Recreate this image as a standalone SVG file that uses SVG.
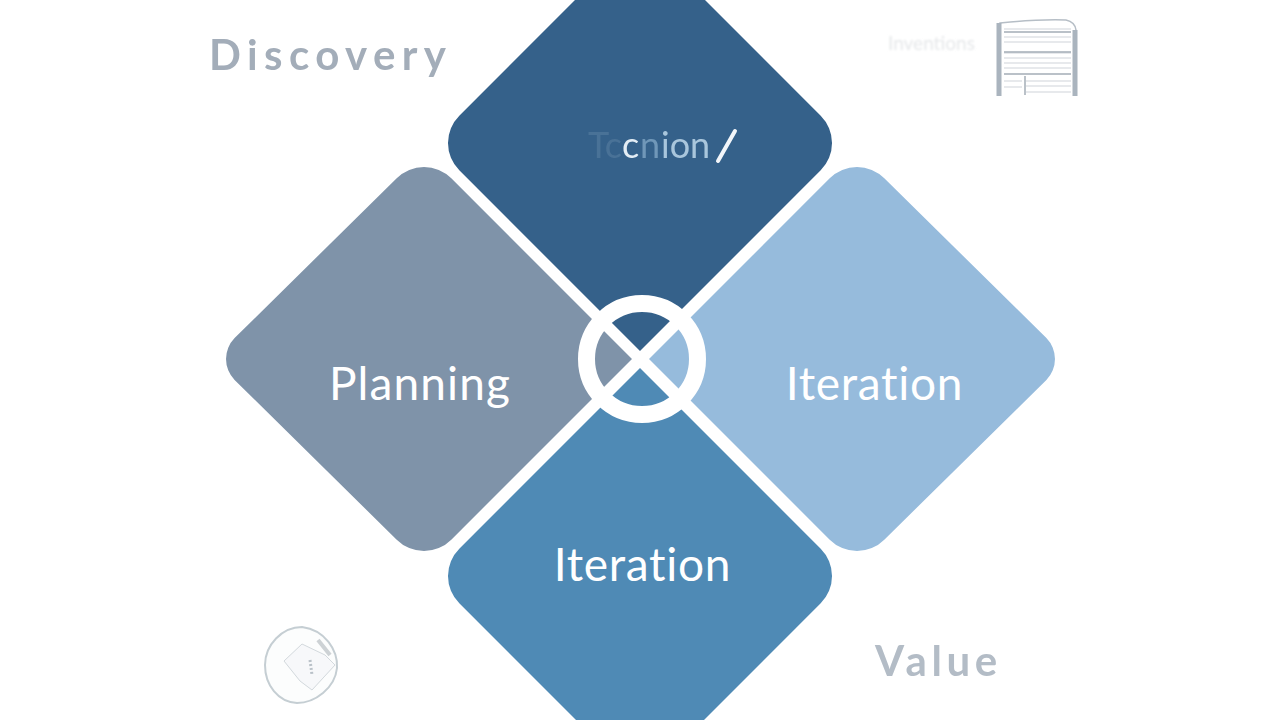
<svg xmlns="http://www.w3.org/2000/svg" width="1280" height="720" viewBox="0 0 1280 720">
<style>
.w{font-family:Lato,"Open Sans",sans-serif;fill:#fff;font-size:46px;text-anchor:middle;letter-spacing:1.1px;font-variant-ligatures:none}
.n{letter-spacing:0.7px}
.g{font-family:Lato,"Open Sans",sans-serif;font-weight:700;fill:#a3adb9;font-size:42px;font-variant-ligatures:none}
.i{fill:none;stroke:#cfd4d9;stroke-width:1.2}
.t{font-family:Lato,sans-serif;font-size:36px}
</style>
<defs>
<filter id="b"><feGaussianBlur stdDeviation="0.6"/></filter>
<filter id="b2"><feGaussianBlur stdDeviation="1.2"/></filter>
</defs>
<rect width="1280" height="720" fill="#fff"/>
<g id="node-top"><path d="M640 351L459.3 170.3A38.6 38.6 0 0 1 459.3 115.7L640 -65L820.7 115.7A38.6 38.6 0 0 1 820.7 170.3Z" fill="#35618a"/>
<g filter="url(#b)"><text class="t" x="588" y="158" fill="#4a7297">Tc</text><text class="t" x="622" y="158" fill="#e3edf5">c</text><text class="t" x="640" y="158" fill="#6f97b8">n</text><text class="t" x="661" y="158" fill="#a9c6dc">ion</text></g>
<path d="M718 161L735 131" stroke="#f2f6fa" stroke-width="4" stroke-linecap="round" fill="none"/></g>
<g id="node-left"><path d="M632 359L451.3 178.3A38.6 38.6 0 0 0 396.7 178.3L234.6 338A30 30 0 0 0 234.6 380L396.7 539.7A38.6 38.6 0 0 0 451.3 539.7Z" fill="#7f93a9"/><text class="w" x="420" y="400">Planning</text></g>
<g id="node-right"><path d="M649 359L829.7 178.3A38.6 38.6 0 0 1 884.3 178.3L1046.4 338A30 30 0 0 1 1046.4 380L884.3 539.7A38.6 38.6 0 0 1 829.7 539.7Z" fill="#96bbdc"/><text class="w n" x="874.5" y="400">Iteration</text></g>
<g id="node-bottom"><path d="M640 368L820.7 548.7A38.6 38.6 0 0 1 820.7 603.3L640 784L459.3 603.3A38.6 38.6 0 0 1 459.3 548.7Z" fill="#4f8ab5"/><text class="w n" x="642.5" y="581">Iteration</text></g>
<g id="connectors"><circle cx="642" cy="359" r="55.5" fill="none" stroke="#fff" stroke-width="17"/></g>
<g id="label-discovery"><text class="g" x="209" y="70" letter-spacing="6.4" filter="url(#b)">Discovery</text></g>
<g id="label-value"><text class="g" x="875" y="676" letter-spacing="4.6" style="fill:#b3bcc6" filter="url(#b)">Value</text></g>
<g id="icon-doc" filter="url(#b)">
<text x="888" y="50" font-family="Lato,sans-serif" font-size="19" fill="#e6e8ea" filter="url(#b2)">Inventions</text>
<path d="M1000 96V23Q1040 19 1066 20Q1075 22 1076 30V96" fill="#fff" stroke="#b6bec6" stroke-width="1.5"/>
<path d="M999 96V23M1075 96V30" fill="none" stroke="#aab4be" stroke-width="5"/>
<path d="M1004 29H1071M1004 37H1071M1004 42H1071M1004 53H1071M1004 58H1071M1004 63H1071M1004 68H1071M1026 81H1071M1026 86H1071M1026 92H1071M1004 81H1022M1004 87H1022" class="i"/>
<path d="M1004 32H1071M1004 52H1071M1004 74H1071M1025 76V95" fill="none" stroke="#a4adb6" stroke-width="1.5"/>
</g>
<g id="icon-circle" filter="url(#b)">
<path d="M265 665C265 645 282 627 302 627C325 630 338 650 337 668C335 688 315 703 297 703C278 702 265 685 265 665Z" fill="#fcfdfd" stroke="#c5ced3" stroke-width="2"/>
<path d="M284 661L302 644L325 655L335 665L312 690L300 681Z" fill="#f7f8fa" stroke="#d3d9dd" stroke-width="1"/>
<path d="M318 640L330 655" stroke="#cdd2d5" stroke-width="4" fill="none"/>
<path d="M310 660L312 675" stroke="#b9c1c8" stroke-width="3" stroke-dasharray="2 2" fill="none"/>
</g>
</svg>
